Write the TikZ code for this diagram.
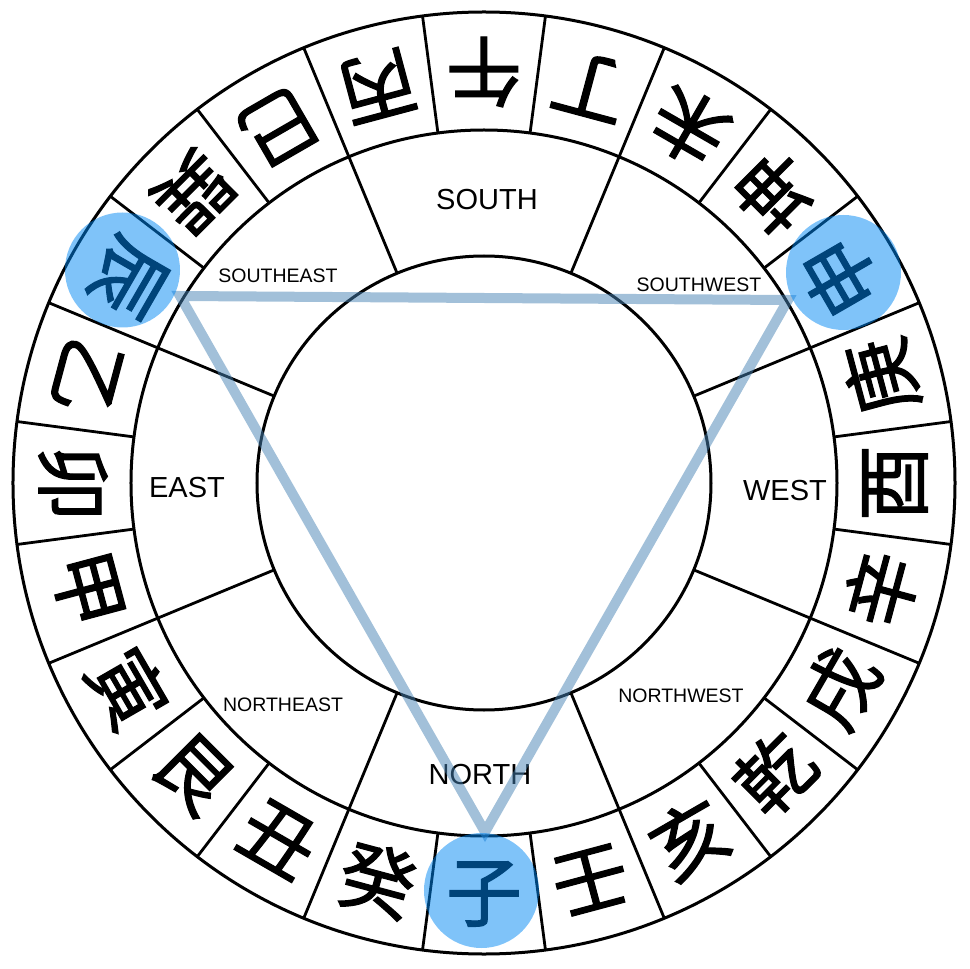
\documentclass[tikz,border=0pt]{standalone}
\usepackage{fontspec}
\setmainfont{Liberation Sans}
\newfontfamily\cjkfont[FakeBold=1.5]{Noto Sans CJK TC}
\definecolor{triblue}{RGB}{70,130,180}
\definecolor{hiblue}{RGB}{0,136,245}
\begin{document}
\begin{tikzpicture}[x=1pt,y=1pt,
  ring/.style={line width=3pt, draw=black},
  spoke/.style={line width=2.8pt, draw=black},
  mountain/.style={font=\cjkfont\fontsize{76}{76}\selectfont, inner sep=0pt},
  bigdir/.style={font=\fontsize{29}{29}\selectfont, inner sep=0pt},
  smalldir/.style={font=\fontsize{19.5}{19.5}\selectfont, inner sep=0pt},
  tri/.style={line width=10pt, draw=triblue, draw opacity=0.5, line join=miter},
  hilite/.style={circle, fill=hiblue, fill opacity=0.5, minimum size=115pt, inner sep=0pt}]
\useasboundingbox[fill=white] (-484,-486) rectangle (485,483);
\coordinate (C) at (0,0);
% rings
\draw[ring] (C) circle (471);
\draw[ring] (C) circle (353);
\draw[ring] (C) circle (227);
% spokes
\foreach \k in {0,...,23} \draw[spoke] (7.5+15*\k:353) -- (7.5+15*\k:471);
\foreach \k in {0,...,7} \draw[spoke] (22.5+45*\k:227) -- (22.5+45*\k:353);
% 24 mountains
\foreach \ch [count=\k from 0] in {子,癸,丑,艮,寅,甲,卯,乙,辰,巽,巳,丙,午,丁,未,坤,申,庚,酉,辛,戌,乾,亥,壬} {
  \pgfmathsetmacro\ang{270-15*\k}
  \node[mountain, rotate=\ang+90] (c\k) at (\ang:411) {\ch};
}
% directions
\node[bigdir] (south) at (3,283) {SOUTH};
\node[bigdir] (east) at (-297,-5) {EAST};
\node[bigdir] (west) at (301,-8) {WEST};
\node[bigdir] (north) at (-4,-292) {NORTH};
\node[smalldir] (se) at (-206,207) {SOUTHEAST};
\node[smalldir] (sw) at (215,198) {SOUTHWEST};
\node[smalldir] (ne) at (-201,-222) {NORTHEAST};
\node[smalldir] (nw) at (197,-213) {NORTHWEST};
% triangle
\coordinate (tL) at (-304,187);
\coordinate (tR) at (304,183);
\coordinate (tB) at (1,-349);
\draw[tri] (tL) -- (tR) -- (tB) -- cycle;
% highlights
\node[hilite] (hchen) at (-361.5,213) {};
\node[hilite] (hshen) at (359.5,210.5) {};
\node[hilite] (hzi) at (-2.5,-407.5) {};
\end{tikzpicture}
\end{document}
